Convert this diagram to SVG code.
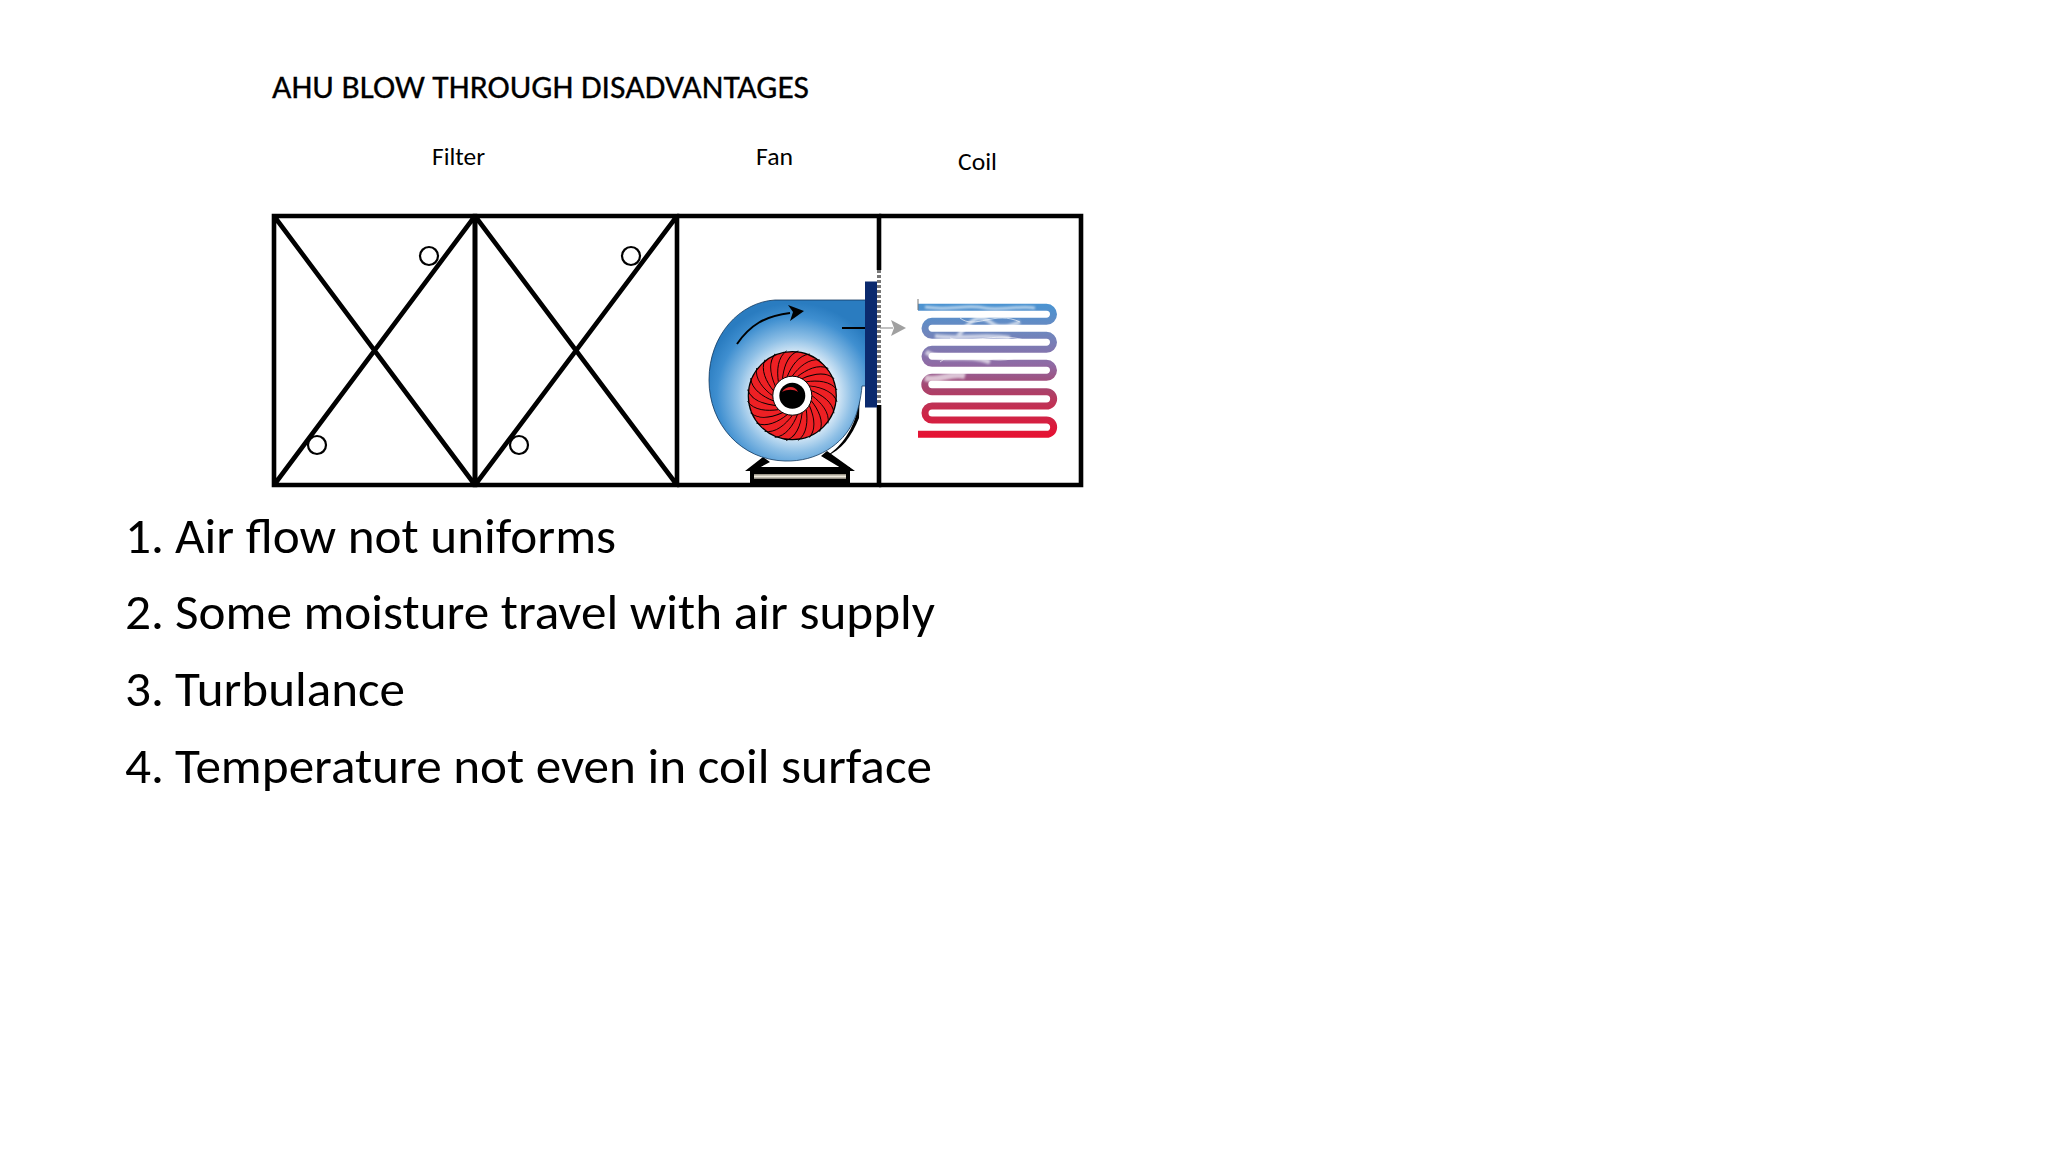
<svg xmlns="http://www.w3.org/2000/svg" xmlns:xlink="http://www.w3.org/1999/xlink" width="2048" height="1152" viewBox="0 0 2048 1152">
<style>
text{font-family:Carlito,Lato,"Liberation Sans",sans-serif;fill:#000}
.list{font-size:50px}
.lab{font-size:24.500px}
.f{fill:none;stroke:#000;stroke-width:4.600px}
.c{fill:#fff;stroke:#000;stroke-width:2.200px}
.s{fill:none;stroke:#fff}
</style>
<defs>
<radialGradient id="vol" gradientUnits="userSpaceOnUse" cx="795" cy="395" r="92">
<stop offset="0.42" stop-color="#e8f2fa"/><stop offset="0.62" stop-color="#8fc0e6"/><stop offset="0.85" stop-color="#3f8fd0"/><stop offset="1" stop-color="#2a7cc0"/>
</radialGradient>
<linearGradient id="coilg" gradientUnits="userSpaceOnUse" x1="0" y1="304" x2="0" y2="438">
<stop offset="0" stop-color="#4a94d2"/><stop offset="0.22" stop-color="#6f86bd"/><stop offset="0.45" stop-color="#8f6aa4"/><stop offset="0.62" stop-color="#a6466f"/><stop offset="0.8" stop-color="#c92a4c"/><stop offset="1" stop-color="#e80f30"/>
</linearGradient>
<linearGradient id="foot" x1="0" y1="0" x2="0" y2="1">
<stop offset="0" stop-color="#8a8578"/><stop offset="0.5" stop-color="#efeadd"/><stop offset="1" stop-color="#77736a"/>
</linearGradient>
<filter id="blur" x="-30%" y="-30%" width="160%" height="160%"><feGaussianBlur stdDeviation="1.300"/></filter>
<filter id="soft" x="-10%" y="-10%" width="120%" height="120%"><feGaussianBlur stdDeviation="0.600"/></filter>
<filter id="edge" filterUnits="userSpaceOnUse" x="870" y="260" width="20" height="155"><feGaussianBlur stdDeviation="0.700"/></filter>
<path id="blade" d="M792.300,376 C799,367 809,358 820,360" fill="none" stroke="#000" stroke-width="0.900"/>
</defs>
<rect width="2048" height="1152" fill="#fff"/>

<text x="272" y="98" font-size="33" textLength="537" lengthAdjust="spacingAndGlyphs" stroke="#000" stroke-width="0.300">AHU BLOW THROUGH DISADVANTAGES</text>
<text class="lab" x="432" y="165" textLength="53" lengthAdjust="spacingAndGlyphs">Filter</text>
<text class="lab" x="756" y="165" textLength="37" lengthAdjust="spacingAndGlyphs">Fan</text>
<text class="lab" x="958" y="170" textLength="39" lengthAdjust="spacingAndGlyphs">Coil</text>

<g id="filter-1">
<path class="f" d="M274,216H475V485H274Z M274,216L475,485 M475,216L274,485"/>
<circle class="c" cx="429" cy="256" r="9"/>
<circle class="c" cx="317" cy="445" r="9"/>
</g>
<g id="filter-2">
<path class="f" d="M475,216H677V485H475Z M475,216L677,485 M677,216L475,485"/>
<circle class="c" cx="631" cy="256" r="9"/>
<circle class="c" cx="519" cy="445" r="9"/>
</g>
<g id="fan-section">
<path class="f" d="M677,216H879V270 M879,405V485H677"/>
<path d="M879,270V405" fill="none" stroke="#777" stroke-width="4" stroke-dasharray="3 2" filter="url(#edge)"/>
<path d="M745,471L763,457L770,462L759,468H841L821,456L827,451L855,471Z" fill="#000"/>
<rect x="750" y="467" width="100" height="18" fill="#000"/>
<rect x="754" y="474" width="92" height="5" fill="url(#foot)"/>
<path d="M857,412C852,432 839,449 826,456C841,451 852,436 859,418L860,386H858Z" fill="#000"/>
<path d="M775,300H866V386H862C861,398 858,412 853,422C843,444 817,462 785,461C741,460 709,424 709,380C709,335 740,302 775,300Z" fill="url(#vol)" stroke="#12385f" stroke-width="0.800"/>
<circle cx="792.300" cy="395.700" r="44" fill="#ee2024" stroke="#000" stroke-width="1.200"/>
<g id="blades">
<use xlink:href="#blade"/>
<use xlink:href="#blade" transform="rotate(15 792.300 395.700)"/>
<use xlink:href="#blade" transform="rotate(30 792.300 395.700)"/>
<use xlink:href="#blade" transform="rotate(45 792.300 395.700)"/>
<use xlink:href="#blade" transform="rotate(60 792.300 395.700)"/>
<use xlink:href="#blade" transform="rotate(75 792.300 395.700)"/>
<use xlink:href="#blade" transform="rotate(90 792.300 395.700)"/>
<use xlink:href="#blade" transform="rotate(105 792.300 395.700)"/>
<use xlink:href="#blade" transform="rotate(120 792.300 395.700)"/>
<use xlink:href="#blade" transform="rotate(135 792.300 395.700)"/>
<use xlink:href="#blade" transform="rotate(150 792.300 395.700)"/>
<use xlink:href="#blade" transform="rotate(165 792.300 395.700)"/>
<use xlink:href="#blade" transform="rotate(180 792.300 395.700)"/>
<use xlink:href="#blade" transform="rotate(195 792.300 395.700)"/>
<use xlink:href="#blade" transform="rotate(210 792.300 395.700)"/>
<use xlink:href="#blade" transform="rotate(225 792.300 395.700)"/>
<use xlink:href="#blade" transform="rotate(240 792.300 395.700)"/>
<use xlink:href="#blade" transform="rotate(255 792.300 395.700)"/>
<use xlink:href="#blade" transform="rotate(270 792.300 395.700)"/>
<use xlink:href="#blade" transform="rotate(285 792.300 395.700)"/>
<use xlink:href="#blade" transform="rotate(300 792.300 395.700)"/>
<use xlink:href="#blade" transform="rotate(315 792.300 395.700)"/>
<use xlink:href="#blade" transform="rotate(330 792.300 395.700)"/>
<use xlink:href="#blade" transform="rotate(345 792.300 395.700)"/>
</g>
<circle cx="792.300" cy="395.700" r="19.500" fill="#fff" stroke="#000" stroke-width="1"/>
<circle cx="792.300" cy="395.700" r="13" fill="#000"/>
<path d="M782,392C786,386 795,385 798,392C794,389 787,389 782,392Z" fill="#e3242b"/>
<path d="M737,344C750,325 765,316 790,313" fill="none" stroke="#000" stroke-width="2"/>
<path d="M788,305L804,311L790,321L793,312Z" fill="#000"/>
<rect x="865" y="281.500" width="12" height="126" fill="#0b2a6e"/>
</g>
<g id="coil-section">
<path class="f" d="M879,216H1081V485H879"/>
<path d="M918,307.300H1046.500A7,7 0 0 1 1046.500,321.300H932A7,7 0 0 0 932,335.300H1046.500A7,7 0 0 1 1046.500,349.300H932A7,7 0 0 0 932,363.300H1046.500A7,7 0 0 1 1046.500,377.300H932A7,7 0 0 0 932,391.700H1046.500A7,7 0 0 1 1046.500,406H932A7,7 0 0 0 932,420H1046.500A7,7 0 0 1 1046.500,434.300H918" fill="none" stroke="url(#coilg)" stroke-width="7"/>
<path d="M918,299V310" stroke="#777" stroke-width="1" fill="none"/>
<g filter="url(#blur)" opacity="0.650">
<path class="s" stroke-width="2.500" d="M925,307C950,311 965,304 985,308C1000,311 1020,305 1035,308"/>
<path class="s" stroke-width="4" d="M958,336C972,318 980,314 990,322C1000,330 1010,326 1020,322"/>
<path class="s" stroke-width="4" d="M935,336C960,340 985,333 1010,338"/>
<path class="s" stroke-width="5" d="M926,352C945,364 965,352 990,362"/>
<path class="s" stroke-width="6" d="M925,378C940,382 950,372 965,376"/>
</g>
<g filter="url(#soft)">
<path class="s" stroke-width="0.900" opacity="0.700" d="M950,338C970,345 1000,330 1030,342 M940,362C960,345 990,370 1025,355 M960,318C975,330 995,310 1020,322"/>
</g>
</g>
<g id="connectors">
<path d="M842,328H865" fill="none" stroke="#000" stroke-width="2"/>
<path d="M880,328H893" fill="none" stroke="#a0a0a0" stroke-width="1.300"/>
<path d="M891,320L906,328L891,336L894,328Z" fill="#a0a0a0"/>
</g>

<text class="list" x="125" y="553" textLength="39" lengthAdjust="spacingAndGlyphs">1.</text>
<text class="list" x="175" y="553" textLength="441" lengthAdjust="spacingAndGlyphs">Air flow not uniforms</text>
<text class="list" x="125" y="629" textLength="39" lengthAdjust="spacingAndGlyphs">2.</text>
<text class="list" x="175" y="629" textLength="760" lengthAdjust="spacingAndGlyphs">Some moisture travel with air supply</text>
<text class="list" x="125" y="706" textLength="39" lengthAdjust="spacingAndGlyphs">3.</text>
<text class="list" x="175" y="706" textLength="230" lengthAdjust="spacingAndGlyphs">Turbulance</text>
<text class="list" x="125" y="783" textLength="39" lengthAdjust="spacingAndGlyphs">4.</text>
<text class="list" x="175" y="783" textLength="757" lengthAdjust="spacingAndGlyphs">Temperature not even in coil surface</text>
</svg>
